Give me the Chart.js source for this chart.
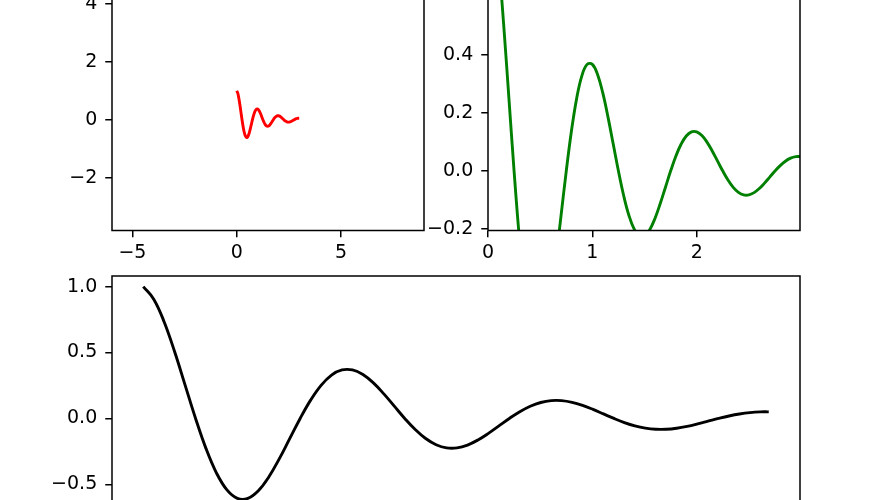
<!DOCTYPE html>
<html>
<head>
<meta charset="utf-8">
<title>Margins</title>
<script src="https://cdn.jsdelivr.net/npm/chart.js@4.4.1/dist/chart.umd.min.js"></script>
<style>
  html, body {
    margin: 0;
    padding: 0;
    background: #ffffff;
  }
  body {
    position: relative;
    width: 888px;
    height: 500px;
    overflow: hidden;
  }
  canvas {
    position: absolute;
  }
</style>
</head>
<body>
<canvas id="zoomedOut" width="382" height="283" style="left:52px; top:-12px"></canvas>
<canvas id="zoomedIn" width="382" height="283" style="left:428px; top:-12px"></canvas>
<canvas id="full" width="758" height="283" style="left:52px; top:266px"></canvas>
<script>
// samples of the damped wave
const T_VALUES = [
  0.00, 0.05, 0.10, 0.15, 0.20, 0.25, 0.30, 0.35, 0.40, 0.45,
  0.50, 0.55, 0.60, 0.65, 0.70, 0.75, 0.80, 0.85, 0.90, 0.95,
  1.00, 1.05, 1.10, 1.15, 1.20, 1.25, 1.30, 1.35, 1.40, 1.45,
  1.50, 1.55, 1.60, 1.65, 1.70, 1.75, 1.80, 1.85, 1.90, 1.95,
  2.00, 2.05, 2.10, 2.15, 2.20, 2.25, 2.30, 2.35, 2.40, 2.45,
  2.50, 2.55, 2.60, 2.65, 2.70, 2.75, 2.80, 2.85, 2.90, 2.95,
  2.99
];
const F_VALUES = [
  1.0000, 0.9047, 0.7320, 0.5059, 0.2530, 0.0000, -0.2289, -0.4142, -0.5423, -0.6064,
  -0.6065, -0.5487, -0.4440, -0.3068, -0.1535, 0.0000, 0.1388, 0.2512, 0.3289, 0.3678,
  0.3679, 0.3328, 0.2693, 0.1861, 0.0931, 0.0000, -0.0842, -0.1524, -0.1995, -0.2231,
  -0.2231, -0.2019, -0.1633, -0.1129, -0.0565, 0.0000, 0.0511, 0.0924, 0.1210, 0.1353,
  0.1353, 0.1224, 0.0991, 0.0685, 0.0342, 0.0000, -0.0310, -0.0561, -0.0734, -0.0821,
  -0.0821, -0.0743, -0.0601, -0.0415, -0.0208, 0.0000, 0.0188, 0.0340, 0.0445, 0.0498,
  0.0502
];

// axis limits of each panel
const OUT_X_RANGE = [-5.98, 8.97];
const OUT_Y_RANGE = [-3.820, 4.213];
const IN_X_RANGE = [0, 2.99];
const IN_Y_RANGE = [-0.2049, 0.5984];
const FULL_X_RANGE = [-0.1495, 3.1395];
const FULL_Y_RANGE = [-0.6868, 1.0803];

// tick values and their labels
const OUT_X_TICKS = [-5, 0, 5];
const OUT_X_LABELS = ["\u22125", "0", "5"];
const OUT_Y_TICKS = [-2, 0, 2, 4];
const OUT_Y_LABELS = ["\u22122", "0", "2", "4"];
const IN_X_TICKS = [0, 1, 2];
const IN_X_LABELS = ["0", "1", "2"];
const IN_Y_TICKS = [-0.2, 0, 0.2, 0.4];
const IN_Y_LABELS = ["\u22120.2", "0.0", "0.2", "0.4"];
const FULL_X_TICKS = [0, 0.5, 1, 1.5, 2, 2.5, 3];
const FULL_X_LABELS = ["0.0", "0.5", "1.0", "1.5", "2.0", "2.5", "3.0"];
const FULL_Y_TICKS = [-0.5, 0, 0.5, 1];
const FULL_Y_LABELS = ["\u22120.5", "0.0", "0.5", "1.0"];

const FONT = { family: "DejaVu Sans", size: 19 };
const TICK_LEN = 6.75;
const SPINE_WIDTH = 1.5;
const LINE_WIDTH = 2.9;
const Y_AXIS_W = 60;

const framePlugin = {
  id: "frame",
  afterDatasetsDraw(chart) {
    const a = chart.chartArea;
    const ctx = chart.ctx;
    ctx.save();
    ctx.strokeStyle = "#000000";
    ctx.lineWidth = SPINE_WIDTH;
    ctx.strokeRect(a.left, a.top, a.right - a.left, a.bottom - a.top);
    ctx.restore();
  }
};

function axisOptions(range, tickValues, tickLabels, isX, axisSize) {
  return {
    type: "linear",
    position: isX ? "bottom" : "left",
    min: range[0],
    max: range[1],
    border: { display: false },
    grid: {
      drawOnChartArea: false,
      drawTicks: true,
      tickLength: TICK_LEN,
      lineWidth: SPINE_WIDTH,
      tickWidth: SPINE_WIDTH,
      color: "#000000",
      tickColor: "#000000"
    },
    ticks: {
      color: "#000000",
      font: FONT,
      padding: isX ? 4 : 8,
      autoSkip: false,
      maxRotation: 0,
      minRotation: 0,
      callback(value) {
        const i = tickValues.indexOf(value);
        return i >= 0 ? tickLabels[i] : "";
      }
    },
    afterBuildTicks(scale) {
      scale.ticks = tickValues.map((v) => ({ value: v }));
    },
    afterFit(scale) {
      if (isX) {
        scale.height = axisSize;
      } else {
        scale.width = axisSize;
      }
      scale.paddingTop = 0;
      scale.paddingBottom = 0;
      scale.paddingLeft = 0;
      scale.paddingRight = 0;
    }
  };
}

function createPanel(id, color, xRange, yRange, xTicks, xLabels, yTicks, yLabels, padTop, xAxisH) {
  const points = T_VALUES.map((t, i) => ({ x: t, y: F_VALUES[i] }));
  return new Chart(document.getElementById(id), {
    type: "line",
    data: {
      datasets: [
        {
          data: points,
          borderColor: color,
          backgroundColor: color,
          borderWidth: LINE_WIDTH,
          pointRadius: 0,
          fill: false,
          tension: 0.4,
          clip: 0
        }
      ]
    },
    options: {
      responsive: false,
      animation: false,
      events: [],
      layout: {
        padding: { top: padTop, right: 10, bottom: 0, left: 0 }
      },
      plugins: {
        legend: { display: false },
        tooltip: { enabled: false },
        title: { display: false }
      },
      scales: {
        x: axisOptions(xRange, xTicks, xLabels, true, xAxisH),
        y: axisOptions(yRange, yTicks, yLabels, false, Y_AXIS_W)
      }
    },
    plugins: [framePlugin]
  });
}

createPanel("zoomedOut", "#ff0000", OUT_X_RANGE, OUT_Y_RANGE,
  OUT_X_TICKS, OUT_X_LABELS, OUT_Y_TICKS, OUT_Y_LABELS, 9.5, 40.5);
createPanel("zoomedIn", "#008000", IN_X_RANGE, IN_Y_RANGE,
  IN_X_TICKS, IN_X_LABELS, IN_Y_TICKS, IN_Y_LABELS, 9.5, 40.5);
createPanel("full", "#000000", FULL_X_RANGE, FULL_Y_RANGE,
  FULL_X_TICKS, FULL_X_LABELS, FULL_Y_TICKS, FULL_Y_LABELS, 10, 40);
</script>
</body>
</html>
